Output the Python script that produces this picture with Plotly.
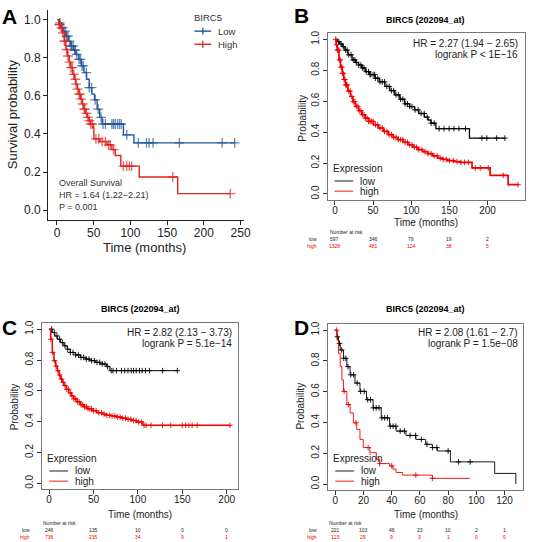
import numpy as np
import plotly.graph_objects as go

W, H = 535, 542
FONT = "Liberation Sans"

# ---------- Panel A (TCGA style, ggplot look) ----------
a_low_t = [0, 3.1, 6.3, 9.0, 12.1, 15.2, 18.8, 22.4, 26.0, 29.6, 33.2, 36.7, 40.3, 43.9,
           47.5, 51.1, 54.7, 58.2, 61.4, 90.5, 104.8, 243]
a_low_s = [1.0, 0.983, 0.957, 0.939, 0.913, 0.887, 0.861, 0.840, 0.817, 0.791, 0.757, 0.722,
           0.687, 0.643, 0.609, 0.579, 0.530, 0.487, 0.452, 0.395, 0.353, 0.353]
a_low_cens = [4, 8, 11, 13, 15, 17, 19, 20, 22, 24, 25, 27, 30, 32, 34, 36, 40, 44, 47, 52, 56,
              60, 62.7, 65.9, 74.8, 77, 79.3, 82.4, 85.1, 87.4, 95, 110.7, 121.9, 125.4, 130.8,
              166.7, 224.9, 242]

a_high_t = [0, 2.7, 5.4, 7.6, 9.9, 12.1, 14.3, 16.6, 18.8, 21.1, 23.3, 25.5, 27.8, 30.0, 32.3,
            34.5, 36.7, 39.0, 41.2, 43.5, 45.7, 49.3, 50.2, 58.2, 68.1, 74.8, 79.3, 86.9,
            112.0, 164.4, 236]
a_high_s = [1.0, 0.974, 0.957, 0.930, 0.887, 0.843, 0.809, 0.777, 0.748, 0.713, 0.687, 0.661,
            0.635, 0.609, 0.583, 0.557, 0.530, 0.508, 0.487, 0.470, 0.452, 0.435, 0.374, 0.360,
            0.343, 0.318, 0.287, 0.231, 0.174, 0.087, 0.087]
a_high_cens = [3, 4, 6, 8, 10, 11, 13, 15, 17, 19, 21, 23, 25, 26, 28, 30, 31, 33, 35, 37, 38,
               40, 42, 44, 46, 48, 53, 56.9, 61.4, 65.9, 70.3, 72.6, 77.1, 90.5, 95, 98.6,
               101.7, 157.7, 236]

# ---------- Panel B ----------
b_low_t = [0, 3, 6, 9.5, 13, 17, 22.4, 27, 31, 35, 39.7, 45, 52.6, 58, 65.5, 72, 78.4, 85,
           91.4, 98, 104.3, 110, 117.2, 122, 125.9, 132.3, 176.3, 222.8]
b_low_s = [1.0, 0.985, 0.97, 0.953, 0.93, 0.90, 0.867, 0.85, 0.834, 0.815, 0.791, 0.772, 0.748,
           0.725, 0.695, 0.668, 0.641, 0.613, 0.583, 0.565, 0.544, 0.52, 0.497, 0.478, 0.458,
           0.422, 0.361, 0.361]
b_low_cens = [5, 8, 11, 14, 16, 18, 21, 24, 26, 28, 31, 34, 36, 38, 41, 44, 46, 47, 50, 52, 53,
              56, 59, 62, 65, 68, 71, 74, 77, 80, 83, 86, 89, 92, 95, 98, 101, 105, 109, 113,
              117, 121, 126, 130, 136.6, 143.1, 149.6, 156, 162.5, 171.1, 192.7, 199.1, 212,
              222.8]

b_high_t = [0, 1.5, 3, 5.2, 7.3, 9.5, 11.5, 13.8, 17, 20.3, 23.5, 26.7, 31, 35.3, 39.5, 44,
            50.5, 56.9, 63.3, 69.8, 76.3, 82.8, 89.3, 95.7, 102, 108.6, 115, 121.6, 128,
            134.5, 141, 147.4, 156, 164.7, 179.7, 203.4, 227, 240]
b_high_s = [1.0, 0.965, 0.93, 0.867, 0.82, 0.78, 0.74, 0.705, 0.665, 0.63, 0.597, 0.566, 0.538,
            0.512, 0.49, 0.469, 0.447, 0.426, 0.404, 0.383, 0.366, 0.351, 0.334, 0.318, 0.302,
            0.286, 0.273, 0.260, 0.246, 0.232, 0.223, 0.215, 0.209, 0.204, 0.168, 0.12, 0.06,
            0.06]
b_high_cens = [1, 2, 3, 4, 5, 6, 7, 8, 9, 10, 11, 12, 13, 14, 15, 16, 18, 20, 22, 24, 26, 28,
               30, 32, 34, 36, 38, 40, 42, 44, 46, 48, 50, 53, 56, 59, 62, 65, 68, 71, 74, 77,
               80, 83, 86, 89, 92, 95, 98, 101, 104, 107, 110, 114, 118, 122, 126, 130, 134,
               138, 142, 146, 150, 155, 160, 165, 170, 175, 184, 190.5, 201, 220.7, 240]

# ---------- Panel C ----------
c_low_t = [0, 3.7, 6.5, 9.3, 13, 16.7, 20.5, 24, 29.6, 35.2, 40.7, 46.3, 51.9, 57.4, 64.8,
           68.5, 144.4]
c_low_s = [1.0, 0.978, 0.956, 0.935, 0.913, 0.892, 0.870, 0.849, 0.833, 0.817, 0.806, 0.796,
           0.785, 0.774, 0.757, 0.731, 0.731]
c_low_cens = [3, 6, 9, 12, 15, 18, 21, 24, 27, 30, 33, 36, 39, 42, 45, 48, 51, 54, 57, 60, 63,
              66, 70, 72, 75.9, 81.5, 85.2, 88.9, 92.6, 95.2, 98.1, 101.9, 104.8, 108.5, 113,
              127.8, 144.4]

c_high_t = [0, 1.9, 3.7, 5.6, 7.5, 9.3, 11.2, 13, 14.8, 16.7, 19.5, 22.2, 25, 27.8, 31.5, 35.2,
            38.9, 42.6, 48.1, 53.7, 59.3, 64.8, 70.4, 75.9, 81.5, 87, 92.6, 98.1, 105.6, 203.7]
c_high_s = [1.0, 0.935, 0.849, 0.796, 0.76, 0.731, 0.703, 0.677, 0.655, 0.634, 0.61, 0.587,
            0.567, 0.548, 0.529, 0.510, 0.497, 0.484, 0.471, 0.458, 0.449, 0.441, 0.436, 0.430,
            0.423, 0.415, 0.407, 0.398, 0.376, 0.376]
c_high_cens = [2, 4, 6, 8, 10, 12, 14, 16, 18, 20, 22, 24, 26, 28, 30, 32, 34, 36, 38, 40, 42,
               44, 46, 48, 50, 53, 56, 59, 62, 65, 68, 71, 74, 77, 80, 83, 86, 89, 92, 95, 98,
               101, 104, 107, 109.3, 114.8, 127.8, 137, 150, 153.7, 157.4, 161.1, 166.7, 203.7]

# ---------- Panel D ----------
d_low_t = [0, 1.2, 2.3, 3.5, 5.8, 8.2, 10.5, 14, 17.5, 22.1, 26.8, 32.6, 38.5, 43.1, 50.1,
           57.1, 64.1, 68.8, 72.3, 81.6, 113, 128]
d_low_s = [1.0, 0.957, 0.914, 0.871, 0.817, 0.763, 0.710, 0.656, 0.602, 0.548, 0.495, 0.430,
           0.376, 0.344, 0.316, 0.290, 0.258, 0.237, 0.215, 0.144, 0.069, 0.0]
d_low_cens = [1.5, 3, 4.5, 6, 7.5, 9, 11, 13, 15.5, 18, 20.5, 23, 25, 27, 29, 31, 33, 35, 37,
              39, 41, 43, 46, 49, 53, 57, 61, 65, 69, 72, 80, 87.4, 95.6]

d_high_t = [0, 1.2, 2.3, 3.5, 4.7, 5.8, 8.2, 10.5, 12.8, 15.2, 17.5, 19.8, 24.5, 29.1, 31.5,
            38.5, 40.8, 43.1, 47.8, 68.8, 95.6]
d_high_s = [1.0, 0.935, 0.849, 0.763, 0.677, 0.602, 0.516, 0.462, 0.398, 0.355, 0.290, 0.237,
            0.204, 0.161, 0.133, 0.118, 0.097, 0.075, 0.058, 0.037, 0.037]
d_high_cens = [1, 6.3, 9.3, 14.7, 23.3, 31.5, 40, 57.1, 68.8]

# numbers at risk
b_risk_t = [0, 50, 100, 150, 200]
b_risk_low = ["597", "346", "79", "19", "2"]
b_risk_high = ["1328", "481", "124", "38", "5"]
c_risk_t = [0, 50, 100, 150, 200]
c_risk_low = ["246", "135", "10", "0", "0"]
c_risk_high = ["736", "235", "34", "9", "1"]
d_risk_t = [0, 20, 40, 60, 80, 100, 120]
d_risk_low = ["221", "103", "46", "23", "10", "2", "1"]
d_risk_high = ["123", "29", "9", "3", "1", "0", "0"]

BLUE = "#21569A"
RED_A = "#E2231F"
RED = "#F00000"


def km_at(times, surv, pts):
    idx = np.searchsorted(np.asarray(times), np.asarray(pts), side="right") - 1
    return np.asarray(surv)[idx]


def px(x):
    return x / W


def py(y):
    return 1 - y / H


fig = go.Figure()

# Panel A curves: one trace per group, censor marks as sized markers
for t, s, cens, col in [(a_low_t, a_low_s, a_low_cens, BLUE),
                        (a_high_t, a_high_s, a_high_cens, RED_A)]:
    xs = np.concatenate([t, cens])
    ys = np.concatenate([s, km_at(t, s, cens)])
    sz = np.concatenate([np.zeros(len(t)), np.full(len(cens), 7)])
    order = np.lexsort((-ys, xs))
    fig.add_trace(go.Scatter(
        x=xs[order], y=ys[order], mode="lines+markers", line_shape="hv",
        line=dict(color=col, width=1.4),
        marker=dict(symbol="cross-thin", size=sz[order], line=dict(color=col, width=1.3)),
        xaxis="x", yaxis="y", showlegend=False, hoverinfo="skip"))

# (axis pair, curves, line width low/high)
panels = [
    ("x2", "y2", b_low_t, b_low_s, b_low_cens, b_high_t, b_high_s, b_high_cens, 1.3, 1.7),
    ("x3", "y3", c_low_t, c_low_s, c_low_cens, c_high_t, c_high_s, c_high_cens, 1.0, 1.5),
    ("x4", "y4", d_low_t, d_low_s, d_low_cens, d_high_t, d_high_s, d_high_cens, 0.9, 0.9),
]
for xa, ya, lt, ls, lc, ht, hs, hc, wl, wh in panels:
    for t, s, cens, col, lw in [(lt, ls, lc, "black", wl), (ht, hs, hc, RED, wh)]:
        fig.add_trace(go.Scatter(x=t, y=s, mode="lines", line_shape="hv",
                                 line=dict(color=col, width=lw), xaxis=xa, yaxis=ya,
                                 showlegend=False, hoverinfo="skip"))
        fig.add_trace(go.Scatter(x=cens, y=km_at(t, s, cens), mode="markers",
                                 marker=dict(symbol="cross-thin", size=4,
                                             line=dict(color=col, width=0.9)),
                                 xaxis=xa, yaxis=ya, showlegend=False, hoverinfo="skip"))

tick_font = dict(family=FONT, size=10, color="#222")
box_axis = dict(showline=True, linecolor="#777", linewidth=1, mirror=True, ticks="outside",
                ticklen=4, tickcolor="#333", showgrid=False, zeroline=False, tickfont=tick_font)
prob_ticks = [0, 0.2, 0.4, 0.6, 0.8, 1.0]

fig.update_layout(
    width=W, height=H, margin=dict(l=0, r=0, t=0, b=0),
    paper_bgcolor="white", plot_bgcolor="white", showlegend=False,
    font=dict(family=FONT, color="#222"),
    xaxis=dict(domain=[px(48.7), px(247.6)], range=[-12.15, 255.15], tickvals=[0, 50, 100, 150, 200, 250],
               showline=True, linecolor="#222", linewidth=1.2, ticks="outside", ticklen=4,
               tickcolor="#222", showgrid=False, zeroline=False, ticklabelstandoff=-2,
               tickfont=dict(family=FONT, size=12, color="#222"), anchor="y"),
    yaxis=dict(domain=[py(217.9), py(7.1)], range=[-0.05, 1.05], tickvals=prob_ticks,
               tickformat=".1f", showline=True, linecolor="#222", linewidth=1.2, ticks="outside",
               ticklen=4, tickcolor="#222", showgrid=False, zeroline=False,
               tickfont=dict(family=FONT, size=12, color="#222"), anchor="x"),
    xaxis2=dict(domain=[px(332), px(532.3)], range=[-9.6, 249.6], tickvals=b_risk_t, anchor="y2",
                ticklabelstandoff=-3, **box_axis),
    yaxis2=dict(domain=[py(198.2), py(30.3)], range=[-0.04, 1.04], tickvals=prob_ticks,
                tickformat=".1f", tickangle=-90, anchor="x2", **box_axis),
    xaxis3=dict(domain=[px(42.3), px(241.6)], range=[-8.2, 213.2], tickvals=c_risk_t, anchor="y3",
                ticklabelstandoff=-3, **box_axis),
    yaxis3=dict(domain=[py(489.2), py(321.8)], range=[-0.04, 1.04], tickvals=prob_ticks,
                tickformat=".1f", tickangle=-90, anchor="x3", **box_axis),
    xaxis4=dict(domain=[px(332.4), px(530)], range=[-5.12, 133.12], tickvals=d_risk_t, anchor="y4",
                ticklabelstandoff=-3, **box_axis),
    yaxis4=dict(domain=[py(489.9), py(322.8)], range=[-0.04, 1.04], tickvals=prob_ticks,
                tickformat=".1f", tickangle=-90, anchor="x4", **box_axis),
)

ann = []
shapes = []


def note(x, y, text, size, xanchor="center", color="#222", angle=0, xref="paper"):
    ann.append(dict(x=x if xref != "paper" else px(x), y=py(y), xref=xref, yref="paper",
                    text=text, showarrow=False, xanchor=xanchor, yanchor="middle",
                    textangle=angle, font=dict(family=FONT, size=size, color=color)))


def seg(x0, y0, x1, y1, color, width):
    shapes.append(dict(type="line", xref="paper", yref="paper", x0=px(x0), y0=py(y0),
                       x1=px(x1), y1=py(y1), line=dict(color=color, width=width)))


# panel letters
for lx, ly, lt in [(9.5, 14, "A"), (305, 13, "B"), (9.5, 326, "C"), (305, 326, "D")]:
    note(lx, ly, "<b>%s</b>" % lt, 21, color="black")

# panel A texts
note(13, 112, "Survival probability", 13, angle=-90)
note(146, 246, "Time (months)", 13)
note(58, 181, "Overall Survival", 9, xanchor="left", color="#333")
note(58, 193, "HR = 1.64 (1.22\u22122.21)", 9, xanchor="left", color="#333")
note(58, 205, "P = 0.001", 9, xanchor="left", color="#333")

# panel A legend
note(195, 15, "BIRC5", 9.5, xanchor="left", color="#333")
for ly, lab, col in [(28.3, "Low", BLUE), (41.5, "High", RED_A)]:
    seg(197, ly, 214, ly, col, 1.4)
    seg(205.5, ly - 3.5, 205.5, ly + 3.5, col, 1.3)
    note(219, ly, lab, 9.5, xanchor="left", color="#333")

# titles, axis titles, HR text and legends for B, C, D
for cx, ty, xl, xt, yp, yt, hr_r, hry, hr1, hr2, lgx, lgy in [
        (431, 17, 306.5, 431.7, 115.8, 221, 526.7, 41,
         "HR = 2.27 (1.94 \u2212 2.65)", "logrank P < 1E\u221216", 335, 166.7),
        (142, 308, 15, 141.7, 405.8, 514.3, 237.3, 331.7,
         "HR = 2.82 (2.13 \u2212 3.73)", "logrank P = 5.1e\u221214", 46, 458.3),
        (431, 308, 305, 431.7, 405.8, 514.3, 526.7, 331.7,
         "HR = 2.08 (1.61 \u2212 2.7)", "logrank P = 1.5e\u221208", 335.7, 458.3)]:
    note(cx, ty, "<b>BIRC5 (202094_at)</b>", 9, color="black")
    note(xl, yp, "Probability", 10, angle=-90)
    note(xt, yt, "Time (months)", 10)
    note(hr_r, hry, hr1, 10, xanchor="right")
    note(hr_r, hry + 10.5, hr2, 10, xanchor="right")
    note(lgx, lgy, "Expression", 10, xanchor="left")
    for dy, lab, col in [(12.3, "low", "black"), (22.5, "high", RED)]:
        seg(lgx + 4, lgy + dy, lgx + 23, lgy + dy, col, 0.9)
        note(lgx + 28, lgy + dy, lab, 10, xanchor="left")

# number at risk tables
for xa, left, lab_r, y0, rt, rl, rh in [
        ("x2", 332, 323, 230, b_risk_t, b_risk_low, b_risk_high),
        ("x3", 41.7, 32.7, 522.7, c_risk_t, c_risk_low, c_risk_high),
        ("x4", 331.7, 323.3, 522.7, d_risk_t, d_risk_low, d_risk_high)]:
    note(left, y0, "Number at risk", 5, xanchor="left", color="#222")
    note(lab_r, y0 + 7.5, "low", 5, xanchor="right", color="#222")
    note(lab_r, y0 + 14.5, "high", 5, xanchor="right", color=RED)
    for t, lo, hi in zip(rt, rl, rh):
        note(t, y0 + 7.5, lo, 5, color="#222", xref=xa)
        note(t, y0 + 14.5, hi, 5, color=RED, xref=xa)

fig.update_layout(annotations=ann, shapes=shapes)
fig.write_html("out.html", config={"displayModeBar": False},
               post_script="document.body.style.margin='0';")
